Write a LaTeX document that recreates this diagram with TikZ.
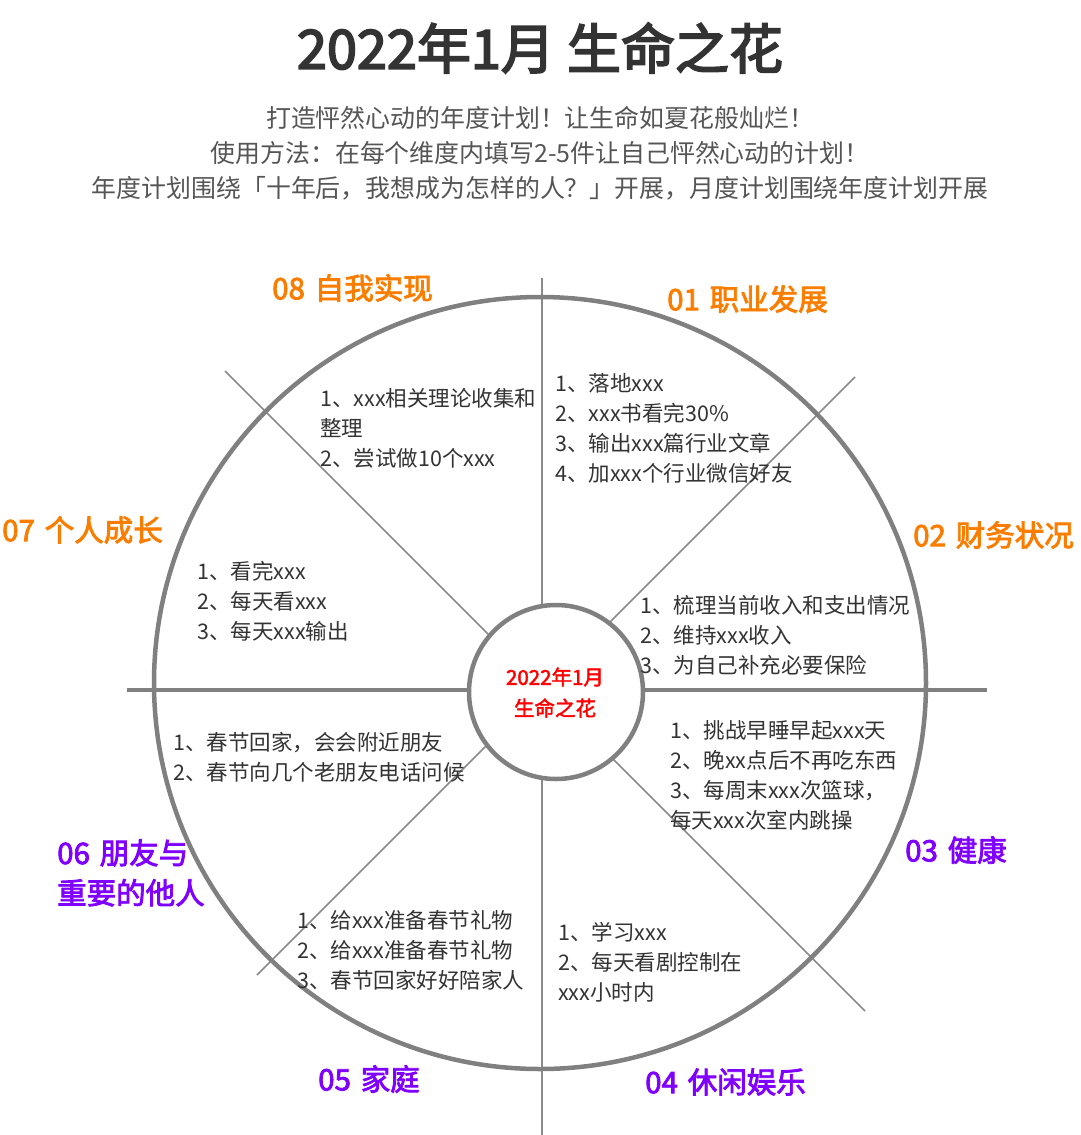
\documentclass[tikz,border=0pt]{standalone}
\usepackage{fontspec}
\setmainfont{Noto Sans CJK SC}
\newfontfamily\medfont[FakeBold=2.8]{Noto Sans CJK SC}
\newfontfamily\hubfont[FakeBold=2.2]{Noto Sans CJK SC}
\newfontfamily\titlefont[FakeBold=3.4]{Noto Sans CJK SC}
\definecolor{txt}{HTML}{333333}
\definecolor{subtxt}{HTML}{555555}
\definecolor{ringgray}{HTML}{808080}
\definecolor{linegray}{HTML}{8A8A8A}
\definecolor{lorange}{RGB}{250,125,0}
\definecolor{lpurple}{RGB}{128,0,255}
\definecolor{cred}{RGB}{255,0,0}
\newcommand\txtblock[2][30pt]{\vtop{\baselineskip=#1\lineskiplimit=-20pt\halign{##\hfil\cr#2\crcr}}}
\tikzset{
  body/.style={anchor=base west, inner sep=0pt, text=txt, font=\fontsize{21.5}{30}\selectfont},
  catorange/.style={anchor=west, inner sep=0pt, text=lorange, font=\medfont\fontsize{29.5}{40}\selectfont},
  catpurple/.style={anchor=west, inner sep=0pt, text=lpurple, font=\medfont\fontsize{29.5}{40}\selectfont},
  subline/.style={anchor=center, inner sep=0pt, text=subtxt, font=\fontsize{24.9}{30}\selectfont},
  ring/.style={draw=ringgray, line width=4.5pt},
}
\begin{document}
\begin{tikzpicture}[x=1pt,y=-1pt]
\useasboundingbox[fill=white] (0,0) rectangle (1080,1135);

% title and subtitles
\node[anchor=center, inner sep=0pt, text=txt, font=\titlefont\fontsize{54}{60}\selectfont] (title) at (540,48) {2022年1月 生命之花};
\node[subline] (sub1) at (540,118) {打造怦然心动的年度计划！让生命如夏花般灿烂！};
\node[subline] (sub2) at (540,153) {使用方法：在每个维度内填写2-5件让自己怦然心动的计划！};
\node[subline] (sub3) at (540,188) {年度计划围绕「十年后，我想成为怎样的人？」开展，月度计划围绕年度计划开展};

% dividing lines
\coordinate (vt) at (542,278);
\coordinate (vb) at (542,1135);
\coordinate (hl) at (127,690);
\coordinate (hr) at (987,690);
\coordinate (ne) at (855,377);
\coordinate (sw) at (257,975);
\coordinate (nw) at (225,371);
\coordinate (se) at (865,1011);
\draw[linegray, line width=2pt] (vt) -- (vb);
\draw[ringgray, line width=3.5pt] (hl) -- (hr);
\draw[linegray, line width=1.5pt] (ne) -- (sw);
\draw[linegray, line width=1.5pt] (nw) -- (se);

% circles
\draw[ring] (540,683) circle[radius=386];
\node[circle, ring, fill=white, minimum size=174pt, inner sep=0pt] (hub) at (556,692) {};
\node[anchor=center, inner sep=0pt, text=cred, font=\hubfont\fontsize{20.5}{30}\selectfont] (hub1) at (555,677) {2022年1月};
\node[anchor=center, inner sep=0pt, text=cred, font=\hubfont\fontsize{20.5}{30}\selectfont] (hub2) at (555,708) {生命之花};

% category labels
\node[catorange] (l08) at (272,288) {08\,\,自我实现};
\node[catorange] (l01) at (667,299) {01\,\,职业发展};
\node[catorange] (l02) at (913,535) {02\,\,财务状况};
\node[catorange] (l07) at (2,530) {07\,\,个人成长};
\node[catpurple] (l03) at (905,850) {03\,\,健康};
\node[catpurple] (l04) at (645,1082) {04\,\,休闲娱乐};
\node[catpurple] (l05) at (318,1079) {05\,\,家庭};
\node[catpurple, anchor=base west] (l06) at (57,864) {\txtblock[40pt]{06\,\,朋友与\cr 重要的他人}};

% body texts
\node[body] (b08) at (320,406) {\txtblock{1、xxx相关理论收集和\cr 整理\cr 2、尝试做10个xxx}};
\node[body] (b01) at (555,391) {\txtblock{1、落地xxx\cr 2、xxx书看完30\%\cr 3、输出xxx篇行业文章\cr 4、加xxx个行业微信好友}};
\node[body] (b07) at (197,579) {\txtblock{1、看完xxx\cr 2、每天看xxx\cr 3、每天xxx输出}};
\node[body] (b02) at (640,613) {\txtblock{1、梳理当前收入和支出情况\cr 2、维持xxx收入\cr 3、为自己补充必要保险}};
\node[body] (b03) at (670,738) {\txtblock{1、挑战早睡早起xxx天\cr 2、晚xx点后不再吃东西\cr 3、每周末xxx次篮球，\cr 每天xxx次室内跳操}};
\node[body] (b06) at (173,750) {\txtblock{1、春节回家，会会附近朋友\cr 2、春节向几个老朋友电话问候}};
\node[body] (b05) at (297,928) {\txtblock{1、给xxx准备春节礼物\cr 2、给xxx准备春节礼物\cr 3、春节回家好好陪家人}};
\node[body] (b04) at (558,940) {\txtblock{1、学习xxx\cr 2、每天看剧控制在\cr xxx小时内}};
\end{tikzpicture}
\end{document}
